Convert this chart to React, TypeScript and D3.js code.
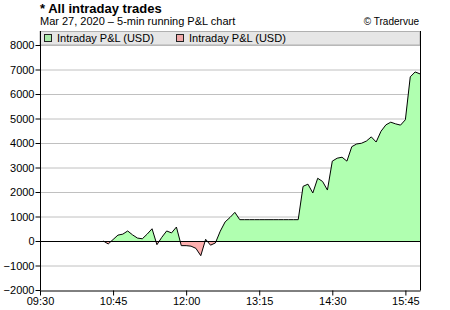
import React, { useRef, useEffect } from 'react';
import * as d3 from 'd3';

// 5-minute running P&L
const times = [
    '10:35', '10:40', '10:45', '10:50', '10:55', '11:00', '11:05', '11:10', '11:15', '11:20', '11:25',
    '11:30', '11:35', '11:40', '11:45', '11:50', '11:55', '12:00', '12:05', '12:10', '12:15', '12:20',
    '12:25', '12:30', '12:35', '12:40', '12:45', '12:50', '12:55', '13:00', '13:05', '13:10', '13:15',
    '13:20', '13:25', '13:30', '13:35', '13:40', '13:45', '13:50', '13:55', '14:00', '14:05', '14:10',
    '14:15', '14:20', '14:25', '14:30', '14:35', '14:40', '14:45', '14:50', '14:55', '15:00', '15:05',
    '15:10', '15:15', '15:20', '15:25', '15:30', '15:35', '15:40', '15:45', '15:50', '15:55', '16:00'
];
const pnl = [
    0, -120, 60, 240, 280, 410, 250, 120, 90, 280, 500,
    -150, 150, 410, 330, 570, -190, -190, -210, -300, -600, 70,
    -170, -80, 400, 780, 960, 1170, 870, 870, 870, 870, 870,
    870, 870, 870, 870, 870, 870, 870, 870, 2230, 2320, 1960,
    2560, 2430, 2080, 3260, 3380, 3420, 3260, 3850, 3960, 3990, 4080,
    4250, 4040, 4480, 4740, 4850, 4780, 4730, 4950, 6700, 6900, 6820
];
const xTicks = ['09:30', '10:45', '12:00', '13:15', '14:30', '15:45'];
const yTicks = [-2000, -1000, 0, 1000, 2000, 3000, 4000, 5000, 6000, 7000, 8000];
const xDomain = ['09:30', '16:00'];
const yDomain = [-2000, 8000];
const seriesName = 'Intraday P&L (USD)';

const App = () => {
    const ref = useRef(null);

    useEffect(() => {
        d3.select(ref.current).selectAll('*').remove();
        const svg = d3.select(ref.current);
        const font = '"Liberation Sans", Arial, sans-serif';
        const left = 40, right = 420, top = 31, bottom = 290;

        const parse = d3.timeParse('%H:%M');
        const x = d3.scaleTime()
            .domain(xDomain.map(parse))
            .range([left, right]);
        const y = d3.scaleLinear()
            .domain(yDomain)
            .range([bottom, 45]);

        const data = times.map((t, i) => ({ t: parse(t), v: pnl[i] }));

        // title + subtitle
        svg.append('text').attr('x', 40).attr('y', 13)
            .style('font', 'bold 13px ' + font).text('* All intraday trades');
        svg.append('text').attr('x', 40).attr('y', 25)
            .style('font', '11px ' + font).text('Mar 27, 2020 \u2013 5-min running P&L chart');
        svg.append('text').attr('x', 419).attr('y', 25).attr('text-anchor', 'end')
            .style('font', '10px ' + font).text('\u00a9 Tradervue');

        // gridlines
        svg.append('g')
            .selectAll('line')
            .data(yTicks.filter(d => d !== 0 && d !== yDomain[0]))
            .enter().append('line')
            .attr('x1', left).attr('x2', right)
            .attr('y1', d => y(d) + 0.5).attr('y2', d => y(d) + 0.5)
            .attr('stroke', '#c0c0c0');

        // clip regions for positive / negative fills
        const defs = svg.append('defs');
        defs.append('clipPath').attr('id', 'clipPos').append('rect')
            .attr('x', left).attr('y', top).attr('width', right - left).attr('height', y(0) - top);
        defs.append('clipPath').attr('id', 'clipNeg').append('rect')
            .attr('x', left).attr('y', y(0)).attr('width', right - left).attr('height', bottom - y(0));

        const area = d3.area()
            .x(d => x(d.t))
            .y0(y(0))
            .y1(d => y(d.v));

        svg.append('path').datum(data)
            .attr('clip-path', 'url(#clipPos)')
            .attr('fill', '#b0ffb0')
            .attr('d', area);
        svg.append('path').datum(data)
            .attr('clip-path', 'url(#clipNeg)')
            .attr('fill', '#ffb0b0')
            .attr('d', area);

        // zero line
        svg.append('line')
            .attr('x1', left).attr('x2', right)
            .attr('y1', y(0) + 0.5).attr('y2', y(0) + 0.5)
            .attr('stroke', '#000');

        const line = d3.line()
            .x(d => x(d.t))
            .y(d => y(d.v));
        svg.append('path').datum(data)
            .attr('fill', 'none')
            .attr('stroke', '#000')
            .attr('stroke-width', 1)
            .attr('d', line);

        // legend band
        svg.append('rect')
            .attr('x', left).attr('y', top + 0.5)
            .attr('width', right - left).attr('height', y(8000) - top - 0.5)
            .attr('fill', '#e6e6e6')
            .attr('stroke', '#b0b0b0');
        const legend = svg.selectAll('.legend').data([seriesName, seriesName])
            .enter().append('g')
            .attr('class', 'legend')
            .attr('transform', (d, i) => 'translate(' + (44.5 + i * 132) + ',34.5)');
        legend.append('rect')
            .attr('width', 7).attr('height', 7)
            .attr('fill', (d, i) => i === 0 ? '#a8eaa8' : '#f0a8a8')
            .attr('stroke', '#222');
        legend.append('text')
            .attr('x', 12.5).attr('y', 7.5)
            .style('font', '11px ' + font)
            .text(d => d);

        // axes
        svg.append('g')
            .attr('transform', 'translate(0,' + (bottom + 0.5) + ')')
            .call(d3.axisBottom(x)
                .tickValues(xTicks.map(parse))
                .tickSize(5)
                .tickSizeOuter(0)
                .tickFormat(d3.timeFormat('%H:%M')))
            .call(g => g.selectAll('text').style('font', '11px ' + font).attr('dy', '0.6em'));

        svg.append('g')
            .attr('transform', 'translate(' + (left + 0.5) + ',0)')
            .call(d3.axisLeft(y)
                .tickValues(yTicks)
                .tickSize(5)
                .tickSizeOuter(0)
                .tickFormat(d3.format('d')))
            .call(g => g.select('.domain').attr('d', 'M0,' + top + 'V' + (bottom + 0.5)))
            .call(g => g.selectAll('text').style('font', '11px ' + font).attr('x', -6));

        // right border
        svg.append('line')
            .attr('x1', right + 0.5).attr('x2', right + 0.5)
            .attr('y1', top).attr('y2', bottom + 0.5)
            .attr('stroke', '#000');
    }, []);

    return (
        <svg ref={ref} width={450} height={310}
            style={{ position: 'absolute', left: 0, top: 0, background: '#fff' }}></svg>
    );
};

export default App;
